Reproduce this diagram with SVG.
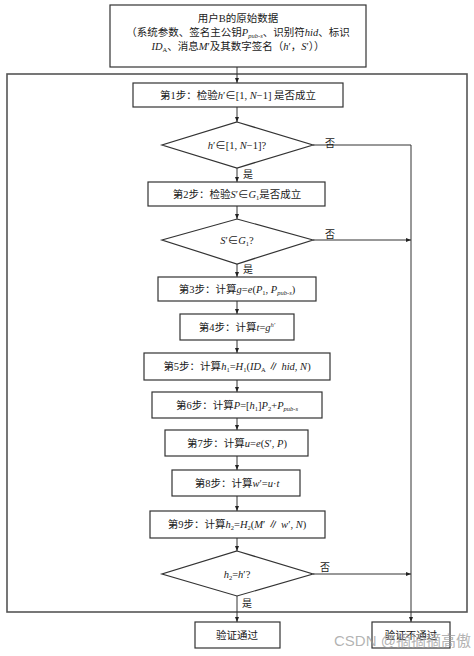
<svg xmlns="http://www.w3.org/2000/svg" width="474" height="656" viewBox="0 0 474 656">
<style>
.bg{fill:#fff}
.box{fill:#fff;stroke:#333;stroke-width:1.2}
.frame{fill:none;stroke:#555;stroke-width:1.6}
.t{font-family:"Liberation Serif","Noto Sans CJK SC",serif;font-size:10.5px;fill:#1a1a1a;text-anchor:middle}
.l{font-family:"Liberation Serif","Noto Sans CJK SC",serif;font-size:10px;fill:#1a1a1a}
.i{font-style:italic}
.conn{stroke:#333;stroke-width:1;fill:none}
.arr{marker-end:url(#ah)}
.wm{font-family:"Liberation Sans","Noto Sans CJK SC",sans-serif;font-size:15px;fill:#9a9a9a;fill-opacity:0.75}
</style>
<defs>
<marker id="ah" viewBox="0 0 10 10" refX="10" refY="5" markerWidth="5" markerHeight="5" orient="auto" markerUnits="userSpaceOnUse">
<path d="M0,1 L10,5 L0,9 z" fill="#222"/>
</marker>
</defs>
<rect class="bg" x="0" y="0" width="474" height="656"/>
<rect id="outer-frame" class="frame" x="7" y="74" width="460" height="538"/>

<g id="connectors">
<line class="conn arr" x1="237" y1="67" x2="237" y2="83"/>
<line class="conn arr" x1="237" y1="107" x2="237" y2="122"/>
<line class="conn arr" x1="237" y1="168" x2="237" y2="182"/>
<line class="conn arr" x1="237" y1="206" x2="237" y2="219"/>
<line class="conn arr" x1="237" y1="264" x2="237" y2="277"/>
<line class="conn arr" x1="237" y1="301" x2="237" y2="314"/>
<line class="conn arr" x1="237" y1="340" x2="237" y2="353"/>
<line class="conn arr" x1="237" y1="380" x2="237" y2="392"/>
<line class="conn arr" x1="237" y1="418" x2="237" y2="430"/>
<line class="conn arr" x1="237" y1="456" x2="237" y2="470"/>
<line class="conn arr" x1="237" y1="496" x2="237" y2="511"/>
<line class="conn arr" x1="237" y1="538" x2="237" y2="551"/>
<line class="conn arr" x1="237" y1="596" x2="237" y2="622"/>
<polyline class="conn arr" points="313,145 411,145 411,622"/>
<line class="conn arr" x1="313" y1="240" x2="411" y2="240"/>
<line class="conn arr" x1="313" y1="574" x2="411" y2="574"/>
<text class="l" x="325" y="147">否</text>
<text class="l" x="325" y="238">否</text>
<text class="l" x="320" y="571">否</text>
<text class="l" x="243" y="178">是</text>
<text class="l" x="243" y="273">是</text>
<text class="l" x="242" y="607">是</text>
</g>

<g id="input">
<rect class="box" x="110" y="5" width="256" height="62"/>
<text class="t" x="238" y="22">用户B的原始数据</text>
<text class="t" x="238" y="36">（系统参数、签名主公钥<tspan class="i">P</tspan><tspan font-size="6.5" dy="2" class="i">pub-s</tspan><tspan dy="-2">、识别符</tspan><tspan class="i">hid</tspan>、标识</text>
<text class="t" x="238" y="50"><tspan class="i">ID</tspan><tspan font-size="6.5" dy="2">A</tspan><tspan dy="-2">、消息</tspan><tspan class="i">M</tspan>′及其数字签名（<tspan class="i">h</tspan>′，<tspan class="i">S</tspan>′））</text>
</g>

<g id="step1">
<rect class="box" x="133" y="83" width="210" height="24"/>
<text class="t" x="238" y="98.5">第1步：检验<tspan class="i">h</tspan>′∈[1, <tspan class="i">N</tspan>−1] 是否成立</text>
</g>

<g id="check1">
<polygon class="box" points="237,122 313,145 237,168 162,145"/>
<text class="t" x="237" y="148.5"><tspan class="i">h</tspan>′∈[1, <tspan class="i">N</tspan>−1]?</text>
</g>

<g id="step2">
<rect class="box" x="148" y="182" width="177" height="24"/>
<text class="t" x="237" y="197.5">第2步：检验<tspan class="i">S</tspan>′∈<tspan class="i">G</tspan><tspan font-size="6.5" dy="2">1</tspan><tspan dy="-2">是否成立</tspan></text>
</g>

<g id="check2">
<polygon class="box" points="237,219 313,240 237,264 162,240"/>
<text class="t" x="237" y="244"><tspan class="i">S</tspan>′∈<tspan class="i">G</tspan><tspan font-size="6.5" dy="2">1</tspan><tspan dy="-2">?</tspan></text>
</g>

<g id="step3">
<rect class="box" x="158" y="277" width="158" height="24"/>
<text class="t" x="237" y="292.5">第3步：计算<tspan class="i">g</tspan>=<tspan class="i">e</tspan>(<tspan class="i">P</tspan><tspan font-size="6.5" dy="2">1</tspan><tspan dy="-2">, </tspan><tspan class="i">P</tspan><tspan font-size="6.5" dy="2" class="i">pub-s</tspan><tspan dy="-2">)</tspan></text>
</g>

<g id="step4">
<rect class="box" x="180" y="314" width="114" height="26"/>
<text class="t" x="237" y="330.5">第4步：计算<tspan class="i">t</tspan>=<tspan class="i">g</tspan><tspan font-size="6.5" dy="-4" class="i">h′</tspan></text>
</g>

<g id="step5">
<rect class="box" x="144" y="353" width="186" height="27"/>
<text class="t" x="237" y="370">第5步：计算<tspan class="i">h</tspan><tspan font-size="6.5" dy="2">1</tspan><tspan dy="-2">=</tspan><tspan class="i">H</tspan><tspan font-size="6.5" dy="2">1</tspan><tspan dy="-2">(</tspan><tspan class="i">ID</tspan><tspan font-size="6.5" dy="2">A</tspan><tspan dy="-2"> ∥ </tspan><tspan class="i">hid</tspan>, <tspan class="i">N</tspan>)</text>
</g>

<g id="step6">
<rect class="box" x="152" y="392" width="170" height="26"/>
<text class="t" x="237" y="408.5">第6步：计算<tspan class="i">P</tspan>=[<tspan class="i">h</tspan><tspan font-size="6.5" dy="2">1</tspan><tspan dy="-2">]</tspan><tspan class="i">P</tspan><tspan font-size="6.5" dy="2">2</tspan><tspan dy="-2">+</tspan><tspan class="i">P</tspan><tspan font-size="6.5" dy="2" class="i">pub-s</tspan></text>
</g>

<g id="step7">
<rect class="box" x="165" y="430" width="143" height="26"/>
<text class="t" x="237" y="446.5">第7步：计算<tspan class="i">u</tspan>=<tspan class="i">e</tspan>(<tspan class="i">S</tspan>′, <tspan class="i">P</tspan>)</text>
</g>

<g id="step8">
<rect class="box" x="172" y="470" width="128" height="26"/>
<text class="t" x="237" y="486.5">第8步：计算<tspan class="i">w</tspan>′=<tspan class="i">u</tspan>·<tspan class="i">t</tspan></text>
</g>

<g id="step9">
<rect class="box" x="150" y="511" width="175" height="27"/>
<text class="t" x="237" y="528">第9步：计算<tspan class="i">h</tspan><tspan font-size="6.5" dy="2">2</tspan><tspan dy="-2">=</tspan><tspan class="i">H</tspan><tspan font-size="6.5" dy="2">2</tspan><tspan dy="-2">(</tspan><tspan class="i">M</tspan>′ ∥ <tspan class="i">w</tspan>′, <tspan class="i">N</tspan>)</text>
</g>

<g id="check3">
<polygon class="box" points="237,551 313,574 237,596 162,574"/>
<text class="t" x="237" y="578"><tspan class="i">h</tspan><tspan font-size="6.5" dy="2">2</tspan><tspan dy="-2">=</tspan><tspan class="i">h</tspan>′?</text>
</g>

<g id="pass">
<rect class="box" x="195" y="622" width="85" height="26"/>
<text class="t" x="237" y="638.5">验证通过</text>
</g>

<g id="fail">
<rect class="box" x="372" y="622" width="78" height="26"/>
<text class="t" x="411" y="638.5">验证不通过</text>
</g>

<text class="wm" x="334" y="646">CSDN @摘摘摘高傲</text>
</svg>
